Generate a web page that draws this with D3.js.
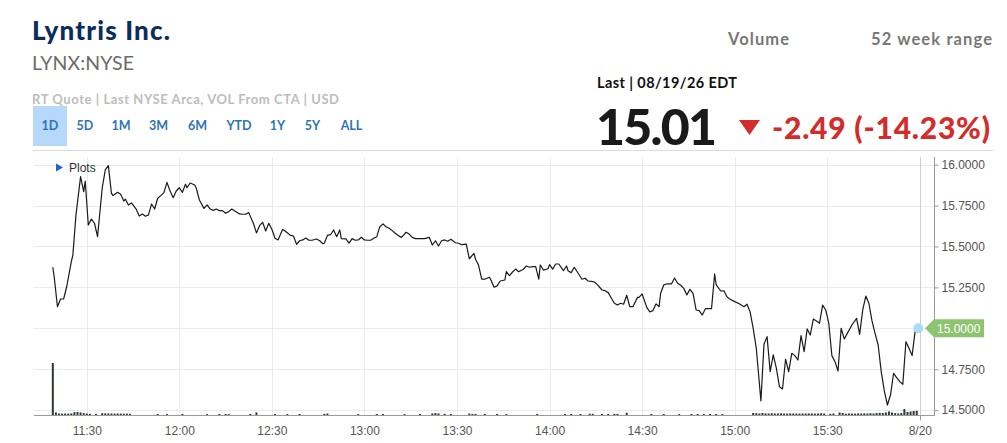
<!DOCTYPE html>
<html>
<head>
<meta charset="utf-8">
<script src="https://cdn.jsdelivr.net/npm/d3@7"></script>
<style>
  html, body { margin: 0; padding: 0; background: #fff; }
  svg { display: block; }
</style>
</head>
<body>
<svg id="chart" width="1007" height="443"></svg>
<script>
// ---------------- DATA ----------------
const company = "Lyntris Inc.";
const ticker = "LYNX:NYSE";
const sourceNote = "RT Quote | Last NYSE Arca, VOL From CTA | USD";
const rangeButtons = ["1D","5D","1M","3M","6M","YTD","1Y","5Y","ALL"];
const activeRange = "1D";
const statHeaders = ["Volume","52 week range"];
const lastLabel = "Last | 08/19/26 EDT";
const lastPrice = "15.01";
const changeText = "-2.49 (-14.23%)";

const priceTimes = [
"11:19:00","11:19:30","11:20:30","11:21:30","11:22:30","11:23:30","11:25:00","11:25:30","11:26:30","11:28:00",
"11:29:00","11:29:30","11:30:30","11:31:30","11:32:30","11:33:30","11:35:00","11:36:00","11:37:00","11:38:00",
"11:38:30","11:40:00","11:41:00","11:42:00","11:42:30","11:43:30","11:44:30","11:46:00","11:47:00","11:48:00",
"11:49:00","11:50:00","11:51:00","11:52:00","11:53:00","11:54:00","11:55:00","11:56:00","11:57:00","11:58:00",
"11:59:00","12:00:00","12:01:00","12:02:00","12:02:30","12:03:30","12:05:00","12:05:30","12:06:30","12:08:00",
"12:09:00","12:10:00","12:11:00","12:12:00","12:13:00","12:14:00","12:15:00","12:16:00","12:17:00","12:18:00",
"12:19:30","12:20:30","12:21:30","12:22:30","12:24:00","12:25:00","12:26:00","12:27:00","12:28:00","12:29:00",
"12:30:00","12:31:00","12:32:00","12:33:30","12:35:00","12:36:00","12:37:00","12:38:00","12:39:00","12:40:00",
"12:41:00","12:42:00","12:43:00","12:44:30","12:45:30","12:46:30","12:47:00","12:48:00","12:49:00","12:50:00",
"12:51:00","12:52:00","12:52:30","12:54:00","12:55:00","12:56:00","12:57:00","12:58:00","12:59:00","13:00:00",
"13:01:00","13:02:00","13:03:00","13:04:00","13:05:00","13:06:00","13:07:00","13:08:00","13:09:00","13:10:00",
"13:11:30","13:12:00","13:13:30","13:14:30","13:15:30","13:16:30","13:18:00","13:19:30","13:21:00","13:22:00",
"13:23:00","13:24:00","13:25:00","13:26:00","13:27:00","13:28:00","13:29:30","13:30:30","13:31:30","13:33:00",
"13:34:00","13:35:30","13:36:00","13:37:00","13:38:00","13:39:00","13:40:30","13:41:00","13:42:00","13:43:00",
"13:44:00","13:45:30","13:46:00","13:47:00","13:48:00","13:49:00","13:50:00","13:51:30","13:52:30","13:53:30",
"13:54:30","13:55:30","13:56:30","13:57:00","13:58:00","13:59:30","14:00:00","14:01:00","14:02:00","14:03:00",
"14:04:30","14:05:30","14:06:00","14:07:00","14:08:00","14:09:00","14:10:30","14:11:30","14:12:30","14:13:30",
"14:14:30","14:15:30","14:17:00","14:18:00","14:19:00","14:20:00","14:21:00","14:22:00","14:23:00","14:24:00",
"14:25:00","14:26:00","14:27:00","14:28:30","14:29:00","14:30:00","14:31:30","14:32:30","14:33:30","14:34:30",
"14:35:30","14:36:00","14:37:00","14:38:00","14:39:30","14:40:30","14:41:30","14:42:30","14:43:30","14:44:30",
"14:45:30","14:46:30","14:47:30","14:48:30","14:49:30","14:50:30","14:52:30","14:53:30","14:54:00","14:55:30",
"14:56:30","14:57:30","14:58:30","15:00:00","15:01:30","15:03:00","15:04:00","15:05:00","15:06:00","15:07:00",
"15:08:30","15:09:30","15:10:30","15:11:30","15:12:30","15:13:30","15:14:30","15:15:30","15:16:30","15:17:30",
"15:18:30","15:19:30","15:20:30","15:21:30","15:22:30","15:23:30","15:24:30","15:25:30","15:26:30","15:27:30",
"15:28:30","15:29:30","15:30:30","15:31:30","15:32:30","15:33:30","15:34:30","15:35:30","15:36:30","15:38:00",
"15:39:30","15:40:30","15:41:30","15:42:30","15:43:30","15:44:30","15:45:30","15:46:30","15:47:30","15:48:30",
"15:49:30","15:50:30","15:51:30","15:52:30","15:53:30","15:54:30","15:55:30","15:56:30","15:57:30","15:58:30",
"15:59:30"];

const priceValues = [
15.373,15.306,15.132,15.179,15.179,15.254,15.407,15.448,15.693,15.927,
15.835,15.900,15.631,15.668,15.642,15.560,15.856,15.968,15.994,15.825,
15.811,15.831,15.819,15.778,15.790,15.754,15.766,15.729,15.686,15.699,
15.685,15.693,15.760,15.729,15.795,15.811,15.829,15.892,15.839,15.798,
15.839,15.859,15.831,15.880,15.859,15.888,15.876,15.856,15.784,15.733,
15.754,15.729,15.721,15.729,15.719,15.719,15.703,15.713,15.729,15.717,
15.699,15.697,15.697,15.707,15.642,15.583,15.627,15.648,15.595,15.642,
15.605,15.550,15.540,15.605,15.584,15.568,15.564,15.513,15.535,15.540,
15.552,15.538,15.538,15.546,15.535,15.517,15.520,15.568,15.572,15.601,
15.560,15.601,15.548,15.546,15.521,15.548,15.538,15.540,15.556,15.540,
15.538,15.538,15.550,15.560,15.621,15.638,15.621,15.611,15.597,15.581,
15.560,15.556,15.587,15.576,15.556,15.548,15.548,15.548,15.556,15.509,
15.535,15.503,15.535,15.540,15.532,15.544,15.523,15.520,15.511,15.515,
15.425,15.458,15.422,15.385,15.300,15.300,15.312,15.295,15.251,15.259,
15.289,15.295,15.346,15.322,15.344,15.362,15.346,15.361,15.381,15.373,
15.377,15.377,15.300,15.387,15.356,15.364,15.389,15.362,15.393,15.393,
15.352,15.381,15.352,15.340,15.373,15.344,15.300,15.306,15.289,15.287,
15.283,15.267,15.234,15.230,15.218,15.185,15.153,15.142,15.153,15.147,
15.202,15.132,15.132,15.189,15.189,15.210,15.128,15.100,15.108,15.149,
15.132,15.214,15.265,15.271,15.271,15.307,15.275,15.263,15.244,15.204,
15.238,15.214,15.112,15.108,15.081,15.120,15.120,15.332,15.265,15.228,
15.229,15.193,15.177,15.163,15.150,15.132,15.147,15.101,15.000,14.878,
14.556,14.902,14.949,14.735,14.837,14.756,14.643,14.629,14.812,14.735,
14.847,14.833,14.806,14.955,14.857,14.996,14.959,15.057,15.045,15.031,
15.142,15.112,15.031,14.833,14.796,14.739,15.000,14.935,14.969,15.020,
15.061,14.963,15.112,15.197,15.153,15.045,14.969,14.898,14.735,14.617,
14.531,14.592,14.725,14.698,14.674,14.658,14.918,14.878,14.833,14.984,
15.000];

const volumeTimes = [
"11:19","11:20","11:21","11:22","11:23","11:24","11:25","11:26","11:27","11:28","11:29","11:30","11:31","11:33",
"11:35","11:36","11:37","11:38","11:39","11:40","11:41","11:42","11:43","11:44",
"11:53","11:56","12:01","12:09","12:13","12:15","12:16","12:23","12:25","12:31","12:35","12:39","12:47","12:48",
"12:58","13:04","13:06","13:13","13:18","13:22","13:23","13:24","13:26","13:28","13:34","13:35","13:36","13:39",
"13:43","13:46","13:56","14:05","14:07","14:10","14:13","14:14","14:17","14:19","14:21","14:22","14:25","14:33",
"14:37","14:42","14:46","14:48","14:50","14:52","14:54","14:56",
"15:06","15:07","15:08","15:09","15:10","15:11","15:12","15:13","15:14","15:15","15:16","15:17","15:18","15:19",
"15:20","15:21","15:22","15:23","15:24","15:25","15:26","15:27","15:28","15:29",
"15:31","15:32","15:34","15:35","15:36","15:37","15:38","15:39","15:40","15:41","15:42","15:43","15:44","15:45",
"15:46","15:47","15:48","15:49","15:50","15:51","15:52","15:53","15:54","15:55","15:56","15:57","15:58","15:59"];

const volumeValues = [
52000,2600,1500,1400,1500,1400,1600,2800,3000,2600,1800,1500,1200,1000,
1800,1600,1500,1500,1400,1500,1400,1300,1400,1200,
1000,900,1100,900,1000,1000,900,1100,2600,1000,900,1000,1200,1500,
900,1000,1000,900,1000,1600,1900,1600,1200,1000,1500,1000,1100,1100,
1000,900,1000,1000,1100,1000,1300,1200,1100,1000,1200,1100,2200,1000,
1000,900,1000,1000,1000,1000,1000,900,
2000,1800,1500,2000,1600,1500,1800,1500,1600,1700,1500,1500,1600,1500,
1500,1400,1500,1500,1600,1500,1400,1500,1800,1500,
1200,1500,2500,2000,1300,1600,1500,1400,1600,1500,1700,1500,1800,1500,
2000,2200,2000,2500,3500,2500,1800,1500,2000,6000,3000,3500,4000,4200];

const priceTicks = [14.5, 14.75, 15.0, 15.25, 15.5, 15.75, 16.0];
const timeTicks = ["11:30","12:00","12:30","13:00","13:30","14:00","14:30","15:00","15:30","16:00"];
const timeTickLabels = ["11:30","12:00","12:30","13:00","13:30","14:00","14:30","15:00","15:30","8/20"];
const priceDomain = [14.47, 16.047];
const timeDomain = ["11:12:54", "16:04:36"];
const volumeMax = 60000;

// ---------------- DRAW ----------------
const svg = d3.select("#chart");
const HDR = "Lato, 'Open Sans', sans-serif";
const AX = "'Liberation Sans', Arial, sans-serif";

const parseS = d3.timeParse("%H:%M:%S");
const parseM = d3.timeParse("%H:%M");

const plot = { left: 34, right: 934, top: 157, bottom: 415 };

const x = d3.scaleTime()
  .domain(timeDomain.map(parseS))
  .range([plot.left, plot.right]);
const y = d3.scaleLinear()
  .domain(priceDomain)
  .range([plot.bottom, plot.top]);
const yv = d3.scaleLinear()
  .domain([0, volumeMax])
  .range([plot.bottom, plot.bottom - 60]);

function headerText(txt, opts) {
  const t = svg.append("text")
    .attr("x", opts.x).attr("y", opts.y)
    .attr("font-family", HDR).attr("font-weight", opts.weight)
    .attr("font-size", opts.size).attr("fill", opts.fill)
    .text(txt);
  if (opts.width) t.attr("textLength", opts.width).attr("lengthAdjust", "spacing");
  return t;
}

// ---- Header (left)
headerText(company, { x: 32, y: 40, weight: 900, size: 26, fill: "#0b2d5b", width: 138 });
headerText(ticker, { x: 32, y: 70, weight: 400, size: 19.5, fill: "#6b6b6b", width: 102 });
headerText(sourceNote, { x: 32, y: 104, weight: 700, size: 13, fill: "#bdbdbd", width: 307 });

const btnX = [50, 85, 121, 158.5, 197.5, 239, 277.5, 312.5, 351.5];
svg.append("rect").attr("x", 33).attr("y", 106).attr("width", 34).attr("height", 40)
  .attr("fill", "#b5d8fb");
svg.selectAll("text.btn").data(rangeButtons).join("text")
  .attr("class", "btn")
  .attr("x", (d, i) => btnX[i]).attr("y", 130)
  .attr("text-anchor", "middle")
  .attr("font-family", HDR).attr("font-weight", 700).attr("font-size", 12.5)
  .attr("fill", "#2f73b6").text(d => d);

// ---- Header (right)
headerText(statHeaders[0], { x: 728, y: 45, weight: 700, size: 16.5, fill: "#777", width: 61 });
headerText(statHeaders[1], { x: 871, y: 45, weight: 700, size: 16.5, fill: "#777", width: 121 });
headerText(lastLabel, { x: 597, y: 88, weight: 700, size: 14.5, fill: "#111", width: 140 });
headerText(lastPrice, { x: 596, y: 145, weight: 900, size: 50, fill: "#1a1a1a", width: 121 });
svg.append("path").attr("d", "M739,120 L760,120 L749.5,135 Z").attr("fill", "#d42b2b");
headerText(changeText, { x: 772, y: 138.5, weight: 900, size: 30, fill: "#d42b2b", width: 218 });

// separator
svg.append("line").attr("x1", 33).attr("x2", 993).attr("y1", 150.5).attr("y2", 150.5)
  .attr("stroke", "#dcdcdc").attr("stroke-width", 1);

// ---- Grid
const g = svg.append("g");
g.selectAll("line.hg").data(priceTicks).join("line")
  .attr("class", "hg")
  .attr("x1", plot.left).attr("x2", plot.right)
  .attr("y1", d => Math.round(y(d)) + 0.5).attr("y2", d => Math.round(y(d)) + 0.5)
  .attr("stroke", "#ebebeb");
g.selectAll("line.vg").data(timeTicks).join("line")
  .attr("class", "vg")
  .attr("x1", d => Math.round(x(parseM(d))) + 0.5).attr("x2", d => Math.round(x(parseM(d))) + 0.5)
  .attr("y1", plot.top).attr("y2", plot.bottom)
  .attr("stroke", (d, i) => i === timeTicks.length - 1 ? "#cfcfcf" : "#ebebeb");

// ---- Volume bars
const vol = volumeTimes.map((t, i) => ({ t: parseM(t), v: volumeValues[i] }));
g.selectAll("rect.vol").data(vol).join("rect")
  .attr("class", "vol")
  .attr("x", d => x(d.t) - 1).attr("width", 2)
  .attr("y", d => yv(d.v)).attr("height", d => plot.bottom - yv(d.v))
  .attr("fill", "#2c3a30");

// ---- Price series
const pts = priceTimes.map((t, i) => ({ t: parseS(t), p: priceValues[i] }));
const last = pts[pts.length - 1];

// ---- Axes
const xAxis = d3.axisBottom(x)
  .tickValues(timeTicks.map(parseM))
  .tickFormat((d, i) => timeTickLabels[i])
  .tickSize(0).tickPadding(11);
const gx = svg.append("g").attr("transform", `translate(0,${plot.bottom + 0.5})`).call(xAxis);
gx.select(".domain").attr("stroke", "#9a9a9a").attr("d", `M${plot.left},0H${plot.right}`);
gx.selectAll("text").attr("font-family", AX).attr("font-size", 12).attr("fill", "#555");
gx.append("line").attr("x1", Math.round(x(parseM("16:00"))) + 0.5).attr("x2", Math.round(x(parseM("16:00"))) + 0.5)
  .attr("y1", 0).attr("y2", 5).attr("stroke", "#9a9a9a");

// the last-price tag sits over the axis label at the same level, so that label is left blank
const yAxis = d3.axisRight(y)
  .tickValues(priceTicks)
  .tickFormat(d => Math.abs(d - last.p) < 0.02 ? "" : d3.format(".4f")(d))
  .tickSize(4).tickPadding(3);
const gy = svg.append("g").attr("transform", `translate(${plot.right + 0.5},0)`).call(yAxis);
gy.select(".domain").attr("stroke", "#9a9a9a").attr("d", `M0,${plot.top}V${plot.bottom + 1}`);
gy.selectAll(".tick line").attr("stroke", "#9a9a9a");
gy.selectAll("text").attr("font-family", AX).attr("font-size", 12).attr("fill", "#555");

const line = d3.line().x(d => x(d.t)).y(d => y(d.p));
svg.append("path").datum(pts)
  .attr("d", line).attr("fill", "none")
  .attr("stroke", "#1a1a1a").attr("stroke-width", 1.2).attr("stroke-linejoin", "round");

// ---- Last point marker and label
const lx = x(last.t), ly = y(last.p);
svg.append("circle").attr("cx", lx).attr("cy", ly).attr("r", 5).attr("fill", "#a6def8");
const tagX = plot.right - 9;
svg.append("path")
  .attr("d", `M${tagX},${ly} L${tagX + 9},${ly - 9} H${tagX + 59} V${ly + 9} H${tagX + 9} Z`)
  .attr("fill", "#8dc46f");
svg.append("text").attr("x", tagX + 12).attr("y", ly + 4.5)
  .attr("font-family", AX).attr("font-size", 12).attr("fill", "#fff")
  .text(d3.format(".4f")(last.p));

// ---- Plots toggle
svg.append("path").attr("d", "M56,163.5 L63,167.5 L56,171.5 Z").attr("fill", "#1f62d6");
svg.append("text").attr("x", 69).attr("y", 172)
  .attr("font-family", AX).attr("font-size", 12).attr("fill", "#333").text("Plots");
</script>
</body>
</html>
